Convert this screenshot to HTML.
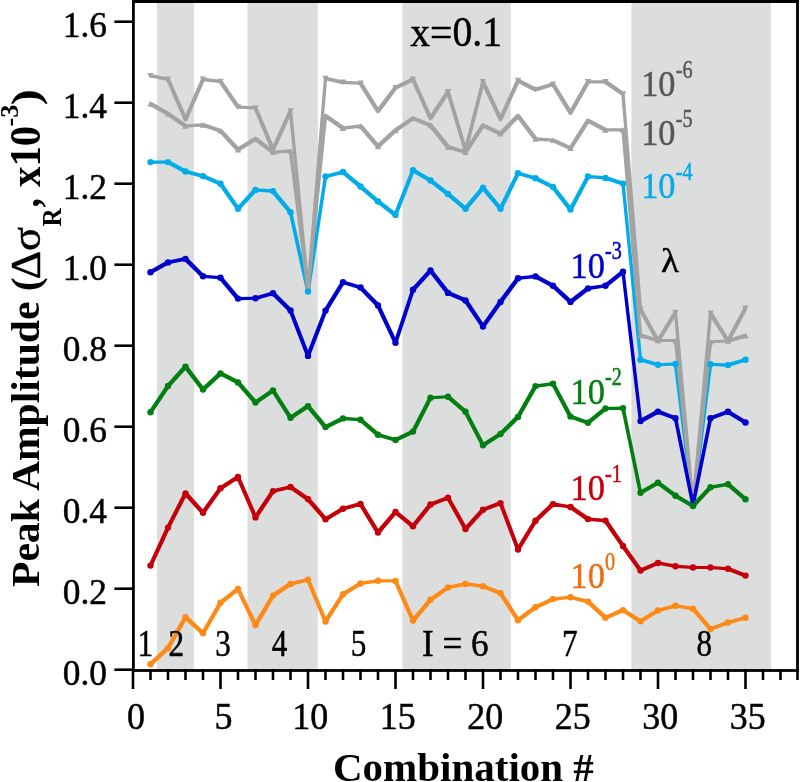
<!DOCTYPE html>
<html><head><meta charset="utf-8"><title>Peak Amplitude vs Combination</title>
<style>html,body{margin:0;padding:0;background:#fff;width:800px;height:782px;overflow:hidden}svg{display:block}</style>
</head><body>
<svg width="800" height="782" viewBox="0 0 800 782">
<rect x="0" y="0" width="800" height="782" fill="#ffffff"/>
<rect x="156.9" y="0" width="37.2" height="670" fill="#dcdddd"/>
<rect x="247.5" y="0" width="70.3" height="670" fill="#dcdddd"/>
<rect x="402.4" y="0" width="108.4" height="670" fill="#dcdddd"/>
<rect x="631.4" y="0" width="139.6" height="670" fill="#dcdddd"/>
<path d="M148.95,160.55L169.55,160.55L169.55,163.65L148.95,163.65ZM166.45,160.55L169.55,160.55L187.05,169.95L187.05,173.05L183.95,173.05L166.45,163.65ZM183.95,169.95L187.05,169.95L204.55,174.55L204.55,177.65L201.45,177.65L183.95,173.05ZM201.45,174.55L204.55,174.55L222.05,182.15L222.05,185.25L218.95,185.25L201.45,177.65ZM218.95,182.15L222.05,182.15L239.55,207.15L239.55,210.25L236.45,210.25L218.95,185.25ZM236.45,207.15L253.95,188.35L257.05,188.35L257.05,191.45L239.55,210.25L236.45,210.25ZM253.95,188.35L257.05,188.35L274.55,189.55L274.55,192.65L271.45,192.65L253.95,191.45ZM271.45,189.55L274.55,189.55L292.05,210.75L292.05,213.85L288.95,213.85L271.45,192.65ZM288.95,210.75L292.05,210.75L309.55,289.95L309.55,293.05L306.45,293.05L288.95,213.85ZM306.45,289.95L323.95,174.95L327.05,174.95L327.05,178.05L309.55,293.05L306.45,293.05ZM323.95,174.95L341.45,170.45L344.55,170.45L344.55,173.55L327.05,178.05L323.95,178.05ZM341.45,170.45L344.55,170.45L362.05,184.95L362.05,188.05L358.95,188.05L341.45,173.55ZM358.95,184.95L362.05,184.95L379.55,199.95L379.55,203.05L376.45,203.05L358.95,188.05ZM376.45,199.95L379.55,199.95L397.05,213.35L397.05,216.45L393.95,216.45L376.45,203.05ZM393.95,213.35L411.45,168.65L414.55,168.65L414.55,171.75L397.05,216.45L393.95,216.45ZM411.45,168.65L414.55,168.65L432.05,178.95L432.05,182.05L428.95,182.05L411.45,171.75ZM428.95,178.95L432.05,178.95L449.55,192.45L449.55,195.55L446.45,195.55L428.95,182.05ZM446.45,192.45L449.55,192.45L467.05,207.15L467.05,210.25L463.95,210.25L446.45,195.55ZM463.95,207.15L481.45,186.25L484.55,186.25L484.55,189.35L467.05,210.25L463.95,210.25ZM481.45,186.25L484.55,186.25L502.05,207.15L502.05,210.25L498.95,210.25L481.45,189.35ZM498.95,207.15L516.45,171.75L519.55,171.75L519.55,174.85L502.05,210.25L498.95,210.25ZM516.45,171.75L519.55,171.75L537.05,176.75L537.05,179.85L533.95,179.85L516.45,174.85ZM533.95,176.75L537.05,176.75L554.55,185.45L554.55,188.55L551.45,188.55L533.95,179.85ZM551.45,185.45L554.55,185.45L572.05,208.05L572.05,211.15L568.95,211.15L551.45,188.55ZM568.95,208.05L586.45,174.95L589.55,174.95L589.55,178.05L572.05,211.15L568.95,211.15ZM586.45,174.95L589.55,174.95L607.05,176.35L607.05,179.45L603.95,179.45L586.45,178.05ZM603.95,176.35L607.05,176.35L624.55,182.05L624.55,185.15L621.45,185.15L603.95,179.45ZM621.45,182.05L624.55,182.05L642.05,358.15L642.05,361.25L638.95,361.25L621.45,185.15ZM638.95,358.15L642.05,358.15L659.55,363.25L659.55,366.35L656.45,366.35L638.95,361.25ZM656.45,363.25L673.95,362.45L677.05,362.45L677.05,365.55L659.55,366.35L656.45,366.35ZM673.95,362.45L677.05,362.45L694.55,503.45L694.55,506.55L691.45,506.55L673.95,365.55ZM691.45,503.45L708.95,362.65L712.05,362.65L712.05,365.75L694.55,506.55L691.45,506.55ZM708.95,362.65L712.05,362.65L729.55,363.55L729.55,366.65L726.45,366.65L708.95,365.75ZM726.45,363.55L743.95,358.15L747.05,358.15L747.05,361.25L729.55,366.65L726.45,366.65Z" fill="#03ace9"/>
<path d="M148.95,74.25L152.05,74.25L169.55,77.65L169.55,80.75L166.45,80.75L148.95,77.35ZM166.45,77.65L169.55,77.65L187.05,117.95L187.05,121.05L183.95,121.05L166.45,80.75ZM183.95,117.95L201.45,77.85L204.55,77.85L204.55,80.95L187.05,121.05L183.95,121.05ZM201.45,77.85L204.55,77.85L222.05,79.95L222.05,83.05L218.95,83.05L201.45,80.95ZM218.95,79.95L222.05,79.95L239.55,105.45L239.55,108.55L236.45,108.55L218.95,83.05ZM236.45,105.45L239.55,105.45L257.05,106.45L257.05,109.55L253.95,109.55L236.45,108.55ZM253.95,106.45L257.05,106.45L274.55,148.05L274.55,151.15L271.45,151.15L253.95,109.55ZM271.45,148.05L288.95,109.45L292.05,109.45L292.05,112.55L274.55,151.15L271.45,151.15ZM288.95,109.45L292.05,109.45L309.55,287.45L309.55,290.55L306.45,290.55L288.95,112.55ZM306.45,287.45L323.95,76.95L327.05,76.95L327.05,80.05L309.55,290.55L306.45,290.55ZM323.95,76.95L327.05,76.95L344.55,80.85L344.55,83.95L341.45,83.95L323.95,80.05ZM341.45,80.85L344.55,80.85L362.05,81.75L362.05,84.85L358.95,84.85L341.45,83.95ZM358.95,81.75L362.05,81.75L379.55,109.55L379.55,112.65L376.45,112.65L358.95,84.85ZM376.45,109.55L393.95,86.25L397.05,86.25L397.05,89.35L379.55,112.65L376.45,112.65ZM393.95,86.25L411.45,77.85L414.55,77.85L414.55,80.95L397.05,89.35L393.95,89.35ZM411.45,77.85L414.55,77.85L432.05,116.65L432.05,119.75L428.95,119.75L411.45,80.95ZM428.95,116.65L446.45,90.35L449.55,90.35L449.55,93.45L432.05,119.75L428.95,119.75ZM446.45,90.35L449.55,90.35L467.05,148.95L467.05,152.05L463.95,152.05L446.45,93.45ZM463.95,148.95L481.45,80.35L484.55,80.35L484.55,83.45L467.05,152.05L463.95,152.05ZM481.45,80.35L484.55,80.35L502.05,117.55L502.05,120.65L498.95,120.65L481.45,83.45ZM498.95,117.55L516.45,79.05L519.55,79.05L519.55,82.15L502.05,120.65L498.95,120.65ZM516.45,79.05L519.55,79.05L537.05,88.05L537.05,91.15L533.95,91.15L516.45,82.15ZM533.95,88.05L551.45,82.65L554.55,82.65L554.55,85.75L537.05,91.15L533.95,91.15ZM551.45,82.65L554.55,82.65L572.05,111.35L572.05,114.45L568.95,114.45L551.45,85.75ZM568.95,111.35L586.45,80.35L589.55,80.35L589.55,83.45L572.05,114.45L568.95,114.45ZM586.45,80.35L607.05,80.35L607.05,83.45L586.45,83.45ZM603.95,80.35L607.05,80.35L624.55,92.45L624.55,95.55L621.45,95.55L603.95,83.45ZM621.45,92.45L624.55,92.45L642.05,307.65L642.05,310.75L638.95,310.75L621.45,95.55ZM638.95,307.65L642.05,307.65L659.55,339.45L659.55,342.55L656.45,342.55L638.95,310.75ZM656.45,339.45L673.95,310.95L677.05,310.95L677.05,314.05L659.55,342.55L656.45,342.55ZM673.95,310.95L677.05,310.95L694.55,503.45L694.55,506.55L691.45,506.55L673.95,314.05ZM691.45,503.45L708.95,311.65L712.05,311.65L712.05,314.75L694.55,506.55L691.45,506.55ZM708.95,311.65L712.05,311.65L729.55,339.45L729.55,342.55L726.45,342.55L708.95,314.75ZM726.45,339.45L743.95,306.75L747.05,306.75L747.05,309.85L729.55,342.55L726.45,342.55Z" fill="#a3a3a3"/>
<path d="M148.95,102.35L152.05,102.35L169.55,112.25L169.55,115.35L166.45,115.35L148.95,105.45ZM166.45,112.25L169.55,112.25L187.05,124.45L187.05,127.55L183.95,127.55L166.45,115.35ZM183.95,124.45L201.45,123.35L204.55,123.35L204.55,126.45L187.05,127.55L183.95,127.55ZM201.45,123.35L204.55,123.35L222.05,129.25L222.05,132.35L218.95,132.35L201.45,126.45ZM218.95,129.25L222.05,129.25L239.55,148.05L239.55,151.15L236.45,151.15L218.95,132.35ZM236.45,148.05L253.95,137.35L257.05,137.35L257.05,140.45L239.55,151.15L236.45,151.15ZM253.95,137.35L257.05,137.35L274.55,150.75L274.55,153.85L271.45,153.85L253.95,140.45ZM271.45,150.75L288.95,149.45L292.05,149.45L292.05,152.55L274.55,153.85L271.45,153.85ZM288.95,149.45L292.05,149.45L309.55,287.45L309.55,290.55L306.45,290.55L288.95,152.55ZM306.45,287.45L323.95,114.35L327.05,114.35L327.05,117.45L309.55,290.55L306.45,290.55ZM323.95,114.35L327.05,114.35L344.55,126.55L344.55,129.65L341.45,129.65L323.95,117.45ZM341.45,126.55L358.95,124.45L362.05,124.45L362.05,127.55L344.55,129.65L341.45,129.65ZM358.95,124.45L362.05,124.45L379.55,144.85L379.55,147.95L376.45,147.95L358.95,127.55ZM376.45,144.85L393.95,128.75L397.05,128.75L397.05,131.85L379.55,147.95L376.45,147.95ZM393.95,128.75L411.45,116.65L414.55,116.65L414.55,119.75L397.05,131.85L393.95,131.85ZM411.45,116.65L414.55,116.65L432.05,123.85L432.05,126.95L428.95,126.95L411.45,119.75ZM428.95,123.85L432.05,123.85L449.55,145.35L449.55,148.45L446.45,148.45L428.95,126.95ZM446.45,145.35L449.55,145.35L467.05,150.75L467.05,153.85L463.95,153.85L446.45,148.45ZM463.95,150.75L481.45,123.85L484.55,123.85L484.55,126.95L467.05,153.85L463.95,153.85ZM481.45,123.85L484.55,123.85L502.05,132.25L502.05,135.35L498.95,135.35L481.45,126.95ZM498.95,132.25L516.45,114.35L519.55,114.35L519.55,117.45L502.05,135.35L498.95,135.35ZM516.45,114.35L519.55,114.35L537.05,137.35L537.05,140.45L533.95,140.45L516.45,117.45ZM533.95,137.35L537.05,137.35L554.55,138.75L554.55,141.85L551.45,141.85L533.95,140.45ZM551.45,138.75L554.55,138.75L572.05,146.65L572.05,149.75L568.95,149.75L551.45,141.85ZM568.95,146.65L586.45,119.05L589.55,119.05L589.55,122.15L572.05,149.75L568.95,149.75ZM586.45,119.05L589.55,119.05L607.05,128.35L607.05,131.45L603.95,131.45L586.45,122.15ZM603.95,128.35L624.55,128.35L624.55,131.45L603.95,131.45ZM621.45,128.35L624.55,128.35L642.05,333.85L642.05,336.95L638.95,336.95L621.45,131.45ZM638.95,333.85L642.05,333.85L659.55,338.95L659.55,342.05L656.45,342.05L638.95,336.95ZM656.45,338.95L677.05,338.95L677.05,342.05L656.45,342.05ZM673.95,338.95L677.05,338.95L694.55,503.45L694.55,506.55L691.45,506.55L673.95,342.05ZM691.45,503.45L708.95,340.25L712.05,340.25L712.05,343.35L694.55,506.55L691.45,506.55ZM708.95,340.25L726.45,339.45L729.55,339.45L729.55,342.55L712.05,343.35L708.95,343.35ZM726.45,339.45L743.95,334.05L747.05,334.05L747.05,337.15L729.55,342.55L726.45,342.55Z" fill="#a3a3a3"/>
<path d="M148.95,270.75L166.45,260.85L169.55,260.85L169.55,263.95L152.05,273.85L148.95,273.85ZM166.45,260.85L183.95,257.35L187.05,257.35L187.05,260.45L169.55,263.95L166.45,263.95ZM183.95,257.35L187.05,257.35L204.55,274.65L204.55,277.75L201.45,277.75L183.95,260.45ZM201.45,274.65L204.55,274.65L222.05,276.15L222.05,279.25L218.95,279.25L201.45,277.75ZM218.95,276.15L222.05,276.15L239.55,297.05L239.55,300.15L236.45,300.15L218.95,279.25ZM236.45,297.05L253.95,296.75L257.05,296.75L257.05,299.85L239.55,300.15L236.45,300.15ZM253.95,296.75L271.45,291.75L274.55,291.75L274.55,294.85L257.05,299.85L253.95,299.85ZM271.45,291.75L274.55,291.75L292.05,308.95L292.05,312.05L288.95,312.05L271.45,294.85ZM288.95,308.95L292.05,308.95L309.55,354.35L309.55,357.45L306.45,357.45L288.95,312.05ZM306.45,354.35L323.95,309.05L327.05,309.05L327.05,312.15L309.55,357.45L306.45,357.45ZM323.95,309.05L341.45,280.65L344.55,280.65L344.55,283.75L327.05,312.15L323.95,312.15ZM341.45,280.65L344.55,280.65L362.05,285.95L362.05,289.05L358.95,289.05L341.45,283.75ZM358.95,285.95L362.05,285.95L379.55,303.85L379.55,306.95L376.45,306.95L358.95,289.05ZM376.45,303.85L379.55,303.85L397.05,341.15L397.05,344.25L393.95,344.25L376.45,306.95ZM393.95,341.15L411.45,288.25L414.55,288.25L414.55,291.35L397.05,344.25L393.95,344.25ZM411.45,288.25L428.95,268.95L432.05,268.95L432.05,272.05L414.55,291.35L411.45,291.35ZM428.95,268.95L432.05,268.95L449.55,291.35L449.55,294.45L446.45,294.45L428.95,272.05ZM446.45,291.35L449.55,291.35L467.05,298.85L467.05,301.95L463.95,301.95L446.45,294.45ZM463.95,298.85L467.05,298.85L484.55,324.95L484.55,328.05L481.45,328.05L463.95,301.95ZM481.45,324.95L498.95,300.35L502.05,300.35L502.05,303.45L484.55,328.05L481.45,328.05ZM498.95,300.35L516.45,276.65L519.55,276.65L519.55,279.75L502.05,303.45L498.95,303.45ZM516.45,276.65L533.95,274.85L537.05,274.85L537.05,277.95L519.55,279.75L516.45,279.75ZM533.95,274.85L537.05,274.85L554.55,284.15L554.55,287.25L551.45,287.25L533.95,277.95ZM551.45,284.15L554.55,284.15L572.05,300.35L572.05,303.45L568.95,303.45L551.45,287.25ZM568.95,300.35L586.45,286.85L589.55,286.85L589.55,289.95L572.05,303.45L568.95,303.45ZM586.45,286.85L603.95,284.15L607.05,284.15L607.05,287.25L589.55,289.95L586.45,289.95ZM603.95,284.15L621.45,270.25L624.55,270.25L624.55,273.35L607.05,287.25L603.95,287.25ZM621.45,270.25L624.55,270.25L642.05,419.55L642.05,422.65L638.95,422.65L621.45,273.35ZM638.95,419.55L656.45,410.05L659.55,410.05L659.55,413.15L642.05,422.65L638.95,422.65ZM656.45,410.05L659.55,410.05L677.05,416.65L677.05,419.75L673.95,419.75L656.45,413.15ZM673.95,416.65L677.05,416.65L694.55,503.45L694.55,506.55L691.45,506.55L673.95,419.75ZM691.45,503.45L708.95,416.75L712.05,416.75L712.05,419.85L694.55,506.55L691.45,506.55ZM708.95,416.75L726.45,410.25L729.55,410.25L729.55,413.35L712.05,419.85L708.95,419.85ZM726.45,410.25L729.55,410.25L747.05,420.95L747.05,424.05L743.95,424.05L726.45,413.35Z" fill="#0000cc"/>
<path d="M148.95,410.75L166.45,384.45L169.55,384.45L169.55,387.55L152.05,413.85L148.95,413.85ZM166.45,384.45L183.95,365.05L187.05,365.05L187.05,368.15L169.55,387.55L166.45,387.55ZM183.95,365.05L187.05,365.05L204.55,387.95L204.55,391.05L201.45,391.05L183.95,368.15ZM201.45,387.95L218.95,371.85L222.05,371.85L222.05,374.95L204.55,391.05L201.45,391.05ZM218.95,371.85L222.05,371.85L239.55,380.85L239.55,383.95L236.45,383.95L218.95,374.95ZM236.45,380.85L239.55,380.85L257.05,400.95L257.05,404.05L253.95,404.05L236.45,383.95ZM253.95,400.95L271.45,388.95L274.55,388.95L274.55,392.05L257.05,404.05L253.95,404.05ZM271.45,388.95L274.55,388.95L292.05,416.15L292.05,419.25L288.95,419.25L271.45,392.05ZM288.95,416.15L306.45,404.55L309.55,404.55L309.55,407.65L292.05,419.25L288.95,419.25ZM306.45,404.55L309.55,404.55L327.05,425.55L327.05,428.65L323.95,428.65L306.45,407.65ZM323.95,425.55L341.45,416.85L344.55,416.85L344.55,419.95L327.05,428.65L323.95,428.65ZM341.45,416.85L344.55,416.85L362.05,418.15L362.05,421.25L358.95,421.25L341.45,419.95ZM358.95,418.15L362.05,418.15L379.55,433.25L379.55,436.35L376.45,436.35L358.95,421.25ZM376.45,433.25L379.55,433.25L397.05,438.45L397.05,441.55L393.95,441.55L376.45,436.35ZM393.95,438.45L411.45,430.05L414.55,430.05L414.55,433.15L397.05,441.55L393.95,441.55ZM411.45,430.05L428.95,396.15L432.05,396.15L432.05,399.25L414.55,433.15L411.45,433.15ZM428.95,396.15L446.45,395.25L449.55,395.25L449.55,398.35L432.05,399.25L428.95,399.25ZM446.45,395.25L449.55,395.25L467.05,410.25L467.05,413.35L463.95,413.35L446.45,398.35ZM463.95,410.25L467.05,410.25L484.55,443.65L484.55,446.75L481.45,446.75L463.95,413.35ZM481.45,443.65L498.95,432.45L502.05,432.45L502.05,435.55L484.55,446.75L481.45,446.75ZM498.95,432.45L516.45,415.35L519.55,415.35L519.55,418.45L502.05,435.55L498.95,435.55ZM516.45,415.35L533.95,384.55L537.05,384.55L537.05,387.65L519.55,418.45L516.45,418.45ZM533.95,384.55L551.45,382.25L554.55,382.25L554.55,385.35L537.05,387.65L533.95,387.65ZM551.45,382.25L554.55,382.25L572.05,415.05L572.05,418.15L568.95,418.15L551.45,385.35ZM568.95,415.05L572.05,415.05L589.55,421.25L589.55,424.35L586.45,424.35L568.95,418.15ZM586.45,421.25L603.95,406.95L607.05,406.95L607.05,410.05L589.55,424.35L586.45,424.35ZM603.95,406.95L621.45,406.55L624.55,406.55L624.55,409.65L607.05,410.05L603.95,410.05ZM621.45,406.55L624.55,406.55L642.05,491.25L642.05,494.35L638.95,494.35L621.45,409.65ZM638.95,491.25L656.45,481.25L659.55,481.25L659.55,484.35L642.05,494.35L638.95,494.35ZM656.45,481.25L659.55,481.25L677.05,494.25L677.05,497.35L673.95,497.35L656.45,484.35ZM673.95,494.25L677.05,494.25L694.55,504.45L694.55,507.55L691.45,507.55L673.95,497.35ZM691.45,504.45L708.95,485.65L712.05,485.65L712.05,488.75L694.55,507.55L691.45,507.55ZM708.95,485.65L726.45,482.75L729.55,482.75L729.55,485.85L712.05,488.75L708.95,488.75ZM726.45,482.75L729.55,482.75L747.05,497.65L747.05,500.75L743.95,500.75L726.45,485.85Z" fill="#037f12"/>
<path d="M148.95,564.05L166.45,526.05L169.55,526.05L169.55,529.15L152.05,567.15L148.95,567.15ZM166.45,526.05L183.95,491.85L187.05,491.85L187.05,494.95L169.55,529.15L166.45,529.15ZM183.95,491.85L187.05,491.85L204.55,511.15L204.55,514.25L201.45,514.25L183.95,494.95ZM201.45,511.15L218.95,486.65L222.05,486.65L222.05,489.75L204.55,514.25L201.45,514.25ZM218.95,486.65L236.45,475.45L239.55,475.45L239.55,478.55L222.05,489.75L218.95,489.75ZM236.45,475.45L239.55,475.45L257.05,515.85L257.05,518.95L253.95,518.95L236.45,478.55ZM253.95,515.85L271.45,489.55L274.55,489.55L274.55,492.65L257.05,518.95L253.95,518.95ZM271.45,489.55L288.95,485.45L292.05,485.45L292.05,488.55L274.55,492.65L271.45,492.65ZM288.95,485.45L292.05,485.45L309.55,497.55L309.55,500.65L306.45,500.65L288.95,488.55ZM306.45,497.55L309.55,497.55L327.05,517.65L327.05,520.75L323.95,520.75L306.45,500.65ZM323.95,517.65L341.45,507.25L344.55,507.25L344.55,510.35L327.05,520.75L323.95,520.75ZM341.45,507.25L358.95,502.35L362.05,502.35L362.05,505.45L344.55,510.35L341.45,510.35ZM358.95,502.35L362.05,502.35L379.55,531.05L379.55,534.15L376.45,534.15L358.95,505.45ZM376.45,531.05L393.95,510.45L397.05,510.45L397.05,513.55L379.55,534.15L376.45,534.15ZM393.95,510.45L397.05,510.45L414.55,524.75L414.55,527.85L411.45,527.85L393.95,513.55ZM411.45,524.75L428.95,502.95L432.05,502.95L432.05,506.05L414.55,527.85L411.45,527.85ZM428.95,502.95L446.45,496.15L449.55,496.15L449.55,499.25L432.05,506.05L428.95,506.05ZM446.45,496.15L449.55,496.15L467.05,527.45L467.05,530.55L463.95,530.55L446.45,499.25ZM463.95,527.45L481.45,508.15L484.55,508.15L484.55,511.25L467.05,530.55L463.95,530.55ZM481.45,508.15L498.95,501.55L502.05,501.55L502.05,504.65L484.55,511.25L481.45,511.25ZM498.95,501.55L502.05,501.55L519.55,547.95L519.55,551.05L516.45,551.05L498.95,504.65ZM516.45,547.95L533.95,519.25L537.05,519.25L537.05,522.35L519.55,551.05L516.45,551.05ZM533.95,519.25L551.45,502.55L554.55,502.55L554.55,505.65L537.05,522.35L533.95,522.35ZM551.45,502.55L554.55,502.55L572.05,505.45L572.05,508.55L568.95,508.55L551.45,505.65ZM568.95,505.45L572.05,505.45L589.55,517.55L589.55,520.65L586.45,520.65L568.95,508.55ZM586.45,517.55L589.55,517.55L607.05,519.05L607.05,522.15L603.95,522.15L586.45,520.65ZM603.95,519.05L607.05,519.05L624.55,544.45L624.55,547.55L621.45,547.55L603.95,522.15ZM621.45,544.45L624.55,544.45L642.05,568.95L642.05,572.05L638.95,572.05L621.45,547.55ZM638.95,568.95L656.45,561.45L659.55,561.45L659.55,564.55L642.05,572.05L638.95,572.05ZM656.45,561.45L659.55,561.45L677.05,564.65L677.05,567.75L673.95,567.75L656.45,564.55ZM673.95,564.65L677.05,564.65L694.55,565.95L694.55,569.05L691.45,569.05L673.95,567.75ZM691.45,565.95L712.05,565.95L712.05,569.05L691.45,569.05ZM708.95,565.95L712.05,565.95L729.55,567.15L729.55,570.25L726.45,570.25L708.95,569.05ZM726.45,567.15L729.55,567.15L747.05,574.05L747.05,577.15L743.95,577.15L726.45,570.25Z" fill="#c4000a"/>
<path d="M148.95,662.65L166.45,646.55L169.55,646.55L169.55,649.65L152.05,665.75L148.95,665.75ZM166.45,646.55L183.95,615.55L187.05,615.55L187.05,618.65L169.55,649.65L166.45,649.65ZM183.95,615.55L187.05,615.55L204.55,631.65L204.55,634.75L201.45,634.75L183.95,618.65ZM201.45,631.65L218.95,601.15L222.05,601.15L222.05,604.25L204.55,634.75L201.45,634.75ZM218.95,601.15L236.45,587.45L239.55,587.45L239.55,590.55L222.05,604.25L218.95,604.25ZM236.45,587.45L239.55,587.45L257.05,623.55L257.05,626.65L253.95,626.65L236.45,590.55ZM253.95,623.55L271.45,594.05L274.55,594.05L274.55,597.15L257.05,626.65L253.95,626.65ZM271.45,594.05L288.95,582.35L292.05,582.35L292.05,585.45L274.55,597.15L271.45,597.15ZM288.95,582.35L306.45,578.25L309.55,578.25L309.55,581.35L292.05,585.45L288.95,585.45ZM306.45,578.25L309.55,578.25L327.05,619.95L327.05,623.05L323.95,623.05L306.45,581.35ZM323.95,619.95L341.45,592.75L344.55,592.75L344.55,595.85L327.05,623.05L323.95,623.05ZM341.45,592.75L358.95,581.95L362.05,581.95L362.05,585.05L344.55,595.85L341.45,595.85ZM358.95,581.95L376.45,579.15L379.55,579.15L379.55,582.25L362.05,585.05L358.95,585.05ZM376.45,579.15L379.55,579.15L397.05,579.35L397.05,582.45L393.95,582.45L376.45,582.25ZM393.95,579.35L397.05,579.35L414.55,619.05L414.55,622.15L411.45,622.15L393.95,582.45ZM411.45,619.05L428.95,598.15L432.05,598.15L432.05,601.25L414.55,622.15L411.45,622.15ZM428.95,598.15L446.45,585.95L449.55,585.95L449.55,589.05L432.05,601.25L428.95,601.25ZM446.45,585.95L463.95,582.35L467.05,582.35L467.05,585.45L449.55,589.05L446.45,589.05ZM463.95,582.35L467.05,582.35L484.55,584.65L484.55,587.75L481.45,587.75L463.95,585.45ZM481.45,584.65L484.55,584.65L502.05,591.55L502.05,594.65L498.95,594.65L481.45,587.75ZM498.95,591.55L502.05,591.55L519.55,618.75L519.55,621.85L516.45,621.85L498.95,594.65ZM516.45,618.75L533.95,605.65L537.05,605.65L537.05,608.75L519.55,621.85L516.45,621.85ZM533.95,605.65L551.45,597.55L554.55,597.55L554.55,600.65L537.05,608.75L533.95,608.75ZM551.45,597.55L568.95,595.75L572.05,595.75L572.05,598.85L554.55,600.65L551.45,600.65ZM568.95,595.75L572.05,595.75L589.55,600.05L589.55,603.15L586.45,603.15L568.95,598.85ZM586.45,600.05L589.55,600.05L607.05,616.15L607.05,619.25L603.95,619.25L586.45,603.15ZM603.95,616.15L621.45,608.55L624.55,608.55L624.55,611.65L607.05,619.25L603.95,619.25ZM621.45,608.55L624.55,608.55L642.05,619.75L642.05,622.85L638.95,622.85L621.45,611.65ZM638.95,619.75L656.45,608.95L659.55,608.95L659.55,612.05L642.05,622.85L638.95,622.85ZM656.45,608.95L673.95,604.15L677.05,604.15L677.05,607.25L659.55,612.05L656.45,612.05ZM673.95,604.15L677.05,604.15L694.55,607.15L694.55,610.25L691.45,610.25L673.95,607.25ZM691.45,607.15L694.55,607.15L712.05,627.45L712.05,630.55L708.95,630.55L691.45,610.25ZM708.95,627.45L726.45,620.95L729.55,620.95L729.55,624.05L712.05,630.55L708.95,630.55ZM726.45,620.95L743.95,616.15L747.05,616.15L747.05,619.25L729.55,624.05L726.45,624.05Z" fill="#fd8a16"/>
<path d="M147.3,73.0h6.4l-3.2,5.6zM164.8,76.4h6.4l-3.2,5.6zM182.3,116.7h6.4l-3.2,5.6zM199.8,76.6h6.4l-3.2,5.6zM217.3,78.7h6.4l-3.2,5.6zM234.8,104.2h6.4l-3.2,5.6zM252.3,105.2h6.4l-3.2,5.6zM269.8,146.8h6.4l-3.2,5.6zM287.3,108.2h6.4l-3.2,5.6zM304.8,286.2h6.4l-3.2,5.6zM322.3,75.7h6.4l-3.2,5.6zM339.8,79.6h6.4l-3.2,5.6zM357.3,80.5h6.4l-3.2,5.6zM374.8,108.3h6.4l-3.2,5.6zM392.3,85.0h6.4l-3.2,5.6zM409.8,76.6h6.4l-3.2,5.6zM427.3,115.4h6.4l-3.2,5.6zM444.8,89.1h6.4l-3.2,5.6zM462.3,147.7h6.4l-3.2,5.6zM479.8,79.1h6.4l-3.2,5.6zM497.3,116.3h6.4l-3.2,5.6zM514.8,77.8h6.4l-3.2,5.6zM532.3,86.8h6.4l-3.2,5.6zM549.8,81.4h6.4l-3.2,5.6zM567.3,110.1h6.4l-3.2,5.6zM584.8,79.1h6.4l-3.2,5.6zM602.3,79.1h6.4l-3.2,5.6zM619.8,91.2h6.4l-3.2,5.6zM637.3,306.4h6.4l-3.2,5.6zM654.8,338.2h6.4l-3.2,5.6zM672.3,309.7h6.4l-3.2,5.6zM689.8,502.2h6.4l-3.2,5.6zM707.3,310.4h6.4l-3.2,5.6zM724.8,338.2h6.4l-3.2,5.6zM742.3,305.5h6.4l-3.2,5.6z" fill="#a3a3a3"/>
<path d="M147.3,106.7h6.4l-3.2,-5.6zM164.8,116.6h6.4l-3.2,-5.6zM182.3,128.8h6.4l-3.2,-5.6zM199.8,127.7h6.4l-3.2,-5.6zM217.3,133.6h6.4l-3.2,-5.6zM234.8,152.4h6.4l-3.2,-5.6zM252.3,141.7h6.4l-3.2,-5.6zM269.8,155.1h6.4l-3.2,-5.6zM287.3,153.8h6.4l-3.2,-5.6zM304.8,291.8h6.4l-3.2,-5.6zM322.3,118.7h6.4l-3.2,-5.6zM339.8,130.9h6.4l-3.2,-5.6zM357.3,128.8h6.4l-3.2,-5.6zM374.8,149.2h6.4l-3.2,-5.6zM392.3,133.1h6.4l-3.2,-5.6zM409.8,121.0h6.4l-3.2,-5.6zM427.3,128.2h6.4l-3.2,-5.6zM444.8,149.7h6.4l-3.2,-5.6zM462.3,155.1h6.4l-3.2,-5.6zM479.8,128.2h6.4l-3.2,-5.6zM497.3,136.6h6.4l-3.2,-5.6zM514.8,118.7h6.4l-3.2,-5.6zM532.3,141.7h6.4l-3.2,-5.6zM549.8,143.1h6.4l-3.2,-5.6zM567.3,151.0h6.4l-3.2,-5.6zM584.8,123.4h6.4l-3.2,-5.6zM602.3,132.7h6.4l-3.2,-5.6zM619.8,132.7h6.4l-3.2,-5.6zM637.3,338.2h6.4l-3.2,-5.6zM654.8,343.3h6.4l-3.2,-5.6zM672.3,343.3h6.4l-3.2,-5.6zM689.8,507.8h6.4l-3.2,-5.6zM707.3,344.6h6.4l-3.2,-5.6zM724.8,343.8h6.4l-3.2,-5.6zM742.3,338.4h6.4l-3.2,-5.6z" fill="#a3a3a3"/>
<g fill="#03ace9"><circle cx="150.5" cy="162.1" r="3.2"/><circle cx="168.0" cy="162.1" r="3.2"/><circle cx="185.5" cy="171.5" r="3.2"/><circle cx="203.0" cy="176.1" r="3.2"/><circle cx="220.5" cy="183.7" r="3.2"/><circle cx="238.0" cy="208.7" r="3.2"/><circle cx="255.5" cy="189.9" r="3.2"/><circle cx="273.0" cy="191.1" r="3.2"/><circle cx="290.5" cy="212.3" r="3.2"/><circle cx="308.0" cy="291.5" r="3.2"/><circle cx="325.5" cy="176.5" r="3.2"/><circle cx="343.0" cy="172.0" r="3.2"/><circle cx="360.5" cy="186.5" r="3.2"/><circle cx="378.0" cy="201.5" r="3.2"/><circle cx="395.5" cy="214.9" r="3.2"/><circle cx="413.0" cy="170.2" r="3.2"/><circle cx="430.5" cy="180.5" r="3.2"/><circle cx="448.0" cy="194.0" r="3.2"/><circle cx="465.5" cy="208.7" r="3.2"/><circle cx="483.0" cy="187.8" r="3.2"/><circle cx="500.5" cy="208.7" r="3.2"/><circle cx="518.0" cy="173.3" r="3.2"/><circle cx="535.5" cy="178.3" r="3.2"/><circle cx="553.0" cy="187.0" r="3.2"/><circle cx="570.5" cy="209.6" r="3.2"/><circle cx="588.0" cy="176.5" r="3.2"/><circle cx="605.5" cy="177.9" r="3.2"/><circle cx="623.0" cy="183.6" r="3.2"/><circle cx="640.5" cy="359.7" r="3.2"/><circle cx="658.0" cy="364.8" r="3.2"/><circle cx="675.5" cy="364.0" r="3.2"/><circle cx="693.0" cy="505.0" r="3.2"/><circle cx="710.5" cy="364.2" r="3.2"/><circle cx="728.0" cy="365.1" r="3.2"/><circle cx="745.5" cy="359.7" r="3.2"/></g>
<g fill="#0000cc"><circle cx="150.5" cy="272.3" r="3.2"/><circle cx="168.0" cy="262.4" r="3.2"/><circle cx="185.5" cy="258.9" r="3.2"/><circle cx="203.0" cy="276.2" r="3.2"/><circle cx="220.5" cy="277.7" r="3.2"/><circle cx="238.0" cy="298.6" r="3.2"/><circle cx="255.5" cy="298.3" r="3.2"/><circle cx="273.0" cy="293.3" r="3.2"/><circle cx="290.5" cy="310.5" r="3.2"/><circle cx="308.0" cy="355.9" r="3.2"/><circle cx="325.5" cy="310.6" r="3.2"/><circle cx="343.0" cy="282.2" r="3.2"/><circle cx="360.5" cy="287.5" r="3.2"/><circle cx="378.0" cy="305.4" r="3.2"/><circle cx="395.5" cy="342.7" r="3.2"/><circle cx="413.0" cy="289.8" r="3.2"/><circle cx="430.5" cy="270.5" r="3.2"/><circle cx="448.0" cy="292.9" r="3.2"/><circle cx="465.5" cy="300.4" r="3.2"/><circle cx="483.0" cy="326.5" r="3.2"/><circle cx="500.5" cy="301.9" r="3.2"/><circle cx="518.0" cy="278.2" r="3.2"/><circle cx="535.5" cy="276.4" r="3.2"/><circle cx="553.0" cy="285.7" r="3.2"/><circle cx="570.5" cy="301.9" r="3.2"/><circle cx="588.0" cy="288.4" r="3.2"/><circle cx="605.5" cy="285.7" r="3.2"/><circle cx="623.0" cy="271.8" r="3.2"/><circle cx="640.5" cy="421.1" r="3.2"/><circle cx="658.0" cy="411.6" r="3.2"/><circle cx="675.5" cy="418.2" r="3.2"/><circle cx="693.0" cy="505.0" r="3.2"/><circle cx="710.5" cy="418.3" r="3.2"/><circle cx="728.0" cy="411.8" r="3.2"/><circle cx="745.5" cy="422.5" r="3.2"/></g>
<g fill="#037f12"><circle cx="150.5" cy="412.3" r="3.2"/><circle cx="168.0" cy="386.0" r="3.2"/><circle cx="185.5" cy="366.6" r="3.2"/><circle cx="203.0" cy="389.5" r="3.2"/><circle cx="220.5" cy="373.4" r="3.2"/><circle cx="238.0" cy="382.4" r="3.2"/><circle cx="255.5" cy="402.5" r="3.2"/><circle cx="273.0" cy="390.5" r="3.2"/><circle cx="290.5" cy="417.7" r="3.2"/><circle cx="308.0" cy="406.1" r="3.2"/><circle cx="325.5" cy="427.1" r="3.2"/><circle cx="343.0" cy="418.4" r="3.2"/><circle cx="360.5" cy="419.7" r="3.2"/><circle cx="378.0" cy="434.8" r="3.2"/><circle cx="395.5" cy="440.0" r="3.2"/><circle cx="413.0" cy="431.6" r="3.2"/><circle cx="430.5" cy="397.7" r="3.2"/><circle cx="448.0" cy="396.8" r="3.2"/><circle cx="465.5" cy="411.8" r="3.2"/><circle cx="483.0" cy="445.2" r="3.2"/><circle cx="500.5" cy="434.0" r="3.2"/><circle cx="518.0" cy="416.9" r="3.2"/><circle cx="535.5" cy="386.1" r="3.2"/><circle cx="553.0" cy="383.8" r="3.2"/><circle cx="570.5" cy="416.6" r="3.2"/><circle cx="588.0" cy="422.8" r="3.2"/><circle cx="605.5" cy="408.5" r="3.2"/><circle cx="623.0" cy="408.1" r="3.2"/><circle cx="640.5" cy="492.8" r="3.2"/><circle cx="658.0" cy="482.8" r="3.2"/><circle cx="675.5" cy="495.8" r="3.2"/><circle cx="693.0" cy="506.0" r="3.2"/><circle cx="710.5" cy="487.2" r="3.2"/><circle cx="728.0" cy="484.3" r="3.2"/><circle cx="745.5" cy="499.2" r="3.2"/></g>
<g fill="#c4000a"><circle cx="150.5" cy="565.6" r="3.2"/><circle cx="168.0" cy="527.6" r="3.2"/><circle cx="185.5" cy="493.4" r="3.2"/><circle cx="203.0" cy="512.7" r="3.2"/><circle cx="220.5" cy="488.2" r="3.2"/><circle cx="238.0" cy="477.0" r="3.2"/><circle cx="255.5" cy="517.4" r="3.2"/><circle cx="273.0" cy="491.1" r="3.2"/><circle cx="290.5" cy="487.0" r="3.2"/><circle cx="308.0" cy="499.1" r="3.2"/><circle cx="325.5" cy="519.2" r="3.2"/><circle cx="343.0" cy="508.8" r="3.2"/><circle cx="360.5" cy="503.9" r="3.2"/><circle cx="378.0" cy="532.6" r="3.2"/><circle cx="395.5" cy="512.0" r="3.2"/><circle cx="413.0" cy="526.3" r="3.2"/><circle cx="430.5" cy="504.5" r="3.2"/><circle cx="448.0" cy="497.7" r="3.2"/><circle cx="465.5" cy="529.0" r="3.2"/><circle cx="483.0" cy="509.7" r="3.2"/><circle cx="500.5" cy="503.1" r="3.2"/><circle cx="518.0" cy="549.5" r="3.2"/><circle cx="535.5" cy="520.8" r="3.2"/><circle cx="553.0" cy="504.1" r="3.2"/><circle cx="570.5" cy="507.0" r="3.2"/><circle cx="588.0" cy="519.1" r="3.2"/><circle cx="605.5" cy="520.6" r="3.2"/><circle cx="623.0" cy="546.0" r="3.2"/><circle cx="640.5" cy="570.5" r="3.2"/><circle cx="658.0" cy="563.0" r="3.2"/><circle cx="675.5" cy="566.2" r="3.2"/><circle cx="693.0" cy="567.5" r="3.2"/><circle cx="710.5" cy="567.5" r="3.2"/><circle cx="728.0" cy="568.7" r="3.2"/><circle cx="745.5" cy="575.6" r="3.2"/></g>
<g fill="#fd8a16"><circle cx="150.5" cy="664.2" r="3.2"/><circle cx="168.0" cy="648.1" r="3.2"/><circle cx="185.5" cy="617.1" r="3.2"/><circle cx="203.0" cy="633.2" r="3.2"/><circle cx="220.5" cy="602.7" r="3.2"/><circle cx="238.0" cy="589.0" r="3.2"/><circle cx="255.5" cy="625.1" r="3.2"/><circle cx="273.0" cy="595.6" r="3.2"/><circle cx="290.5" cy="583.9" r="3.2"/><circle cx="308.0" cy="579.8" r="3.2"/><circle cx="325.5" cy="621.5" r="3.2"/><circle cx="343.0" cy="594.3" r="3.2"/><circle cx="360.5" cy="583.5" r="3.2"/><circle cx="378.0" cy="580.7" r="3.2"/><circle cx="395.5" cy="580.9" r="3.2"/><circle cx="413.0" cy="620.6" r="3.2"/><circle cx="430.5" cy="599.7" r="3.2"/><circle cx="448.0" cy="587.5" r="3.2"/><circle cx="465.5" cy="583.9" r="3.2"/><circle cx="483.0" cy="586.2" r="3.2"/><circle cx="500.5" cy="593.1" r="3.2"/><circle cx="518.0" cy="620.3" r="3.2"/><circle cx="535.5" cy="607.2" r="3.2"/><circle cx="553.0" cy="599.1" r="3.2"/><circle cx="570.5" cy="597.3" r="3.2"/><circle cx="588.0" cy="601.6" r="3.2"/><circle cx="605.5" cy="617.7" r="3.2"/><circle cx="623.0" cy="610.1" r="3.2"/><circle cx="640.5" cy="621.3" r="3.2"/><circle cx="658.0" cy="610.5" r="3.2"/><circle cx="675.5" cy="605.7" r="3.2"/><circle cx="693.0" cy="608.7" r="3.2"/><circle cx="710.5" cy="629.0" r="3.2"/><circle cx="728.0" cy="622.5" r="3.2"/><circle cx="745.5" cy="617.7" r="3.2"/></g>
<g fill="#000">
<rect x="132" y="0" width="2.8" height="671.2"/>
<rect x="132" y="669.1" width="667" height="2.8"/>
<rect x="132" y="0" width="667" height="3"/>
<rect x="796.1" y="0" width="2.8" height="671.2"/>
<rect x="114.4" y="668.4" width="18" height="2.6"/>
<rect x="114.4" y="587.4" width="18" height="2.6"/>
<rect x="114.4" y="506.4" width="18" height="2.6"/>
<rect x="114.4" y="425.4" width="18" height="2.6"/>
<rect x="114.4" y="344.4" width="18" height="2.6"/>
<rect x="114.4" y="263.4" width="18" height="2.6"/>
<rect x="114.4" y="182.4" width="18" height="2.6"/>
<rect x="114.4" y="101.4" width="18" height="2.6"/>
<rect x="114.4" y="20.4" width="18" height="2.6"/>
<rect x="131.7" y="669" width="2.6" height="20"/>
<rect x="149.2" y="669" width="2.6" height="11"/>
<rect x="166.7" y="669" width="2.6" height="11"/>
<rect x="184.2" y="669" width="2.6" height="11"/>
<rect x="201.7" y="669" width="2.6" height="11"/>
<rect x="219.2" y="669" width="2.6" height="20"/>
<rect x="236.7" y="669" width="2.6" height="11"/>
<rect x="254.2" y="669" width="2.6" height="11"/>
<rect x="271.7" y="669" width="2.6" height="11"/>
<rect x="289.2" y="669" width="2.6" height="11"/>
<rect x="306.7" y="669" width="2.6" height="20"/>
<rect x="324.2" y="669" width="2.6" height="11"/>
<rect x="341.7" y="669" width="2.6" height="11"/>
<rect x="359.2" y="669" width="2.6" height="11"/>
<rect x="376.7" y="669" width="2.6" height="11"/>
<rect x="394.2" y="669" width="2.6" height="20"/>
<rect x="411.7" y="669" width="2.6" height="11"/>
<rect x="429.2" y="669" width="2.6" height="11"/>
<rect x="446.7" y="669" width="2.6" height="11"/>
<rect x="464.2" y="669" width="2.6" height="11"/>
<rect x="481.7" y="669" width="2.6" height="20"/>
<rect x="499.2" y="669" width="2.6" height="11"/>
<rect x="516.7" y="669" width="2.6" height="11"/>
<rect x="534.2" y="669" width="2.6" height="11"/>
<rect x="551.7" y="669" width="2.6" height="11"/>
<rect x="569.2" y="669" width="2.6" height="20"/>
<rect x="586.7" y="669" width="2.6" height="11"/>
<rect x="604.2" y="669" width="2.6" height="11"/>
<rect x="621.7" y="669" width="2.6" height="11"/>
<rect x="639.2" y="669" width="2.6" height="11"/>
<rect x="656.7" y="669" width="2.6" height="20"/>
<rect x="674.2" y="669" width="2.6" height="11"/>
<rect x="691.7" y="669" width="2.6" height="11"/>
<rect x="709.2" y="669" width="2.6" height="11"/>
<rect x="726.7" y="669" width="2.6" height="11"/>
<rect x="744.2" y="669" width="2.6" height="20"/>
<rect x="761.7" y="669" width="2.6" height="11"/>
<rect x="779.2" y="669" width="2.6" height="11"/>
<rect x="796.2" y="669" width="2.6" height="11"/>
</g>
<text transform="translate(107.04,685.47) scale(1.0247,1.0393)" text-anchor="end" style="font-family:'Liberation Serif','Times New Roman',serif;font-size:34.5px;font-weight:normal" fill="#000" stroke="#000" stroke-width="0.45">0.0</text>
<text transform="translate(107.04,604.47) scale(1.0247,1.0393)" text-anchor="end" style="font-family:'Liberation Serif','Times New Roman',serif;font-size:34.5px;font-weight:normal" fill="#000" stroke="#000" stroke-width="0.45">0.2</text>
<text transform="translate(107.04,523.47) scale(1.0247,1.0393)" text-anchor="end" style="font-family:'Liberation Serif','Times New Roman',serif;font-size:34.5px;font-weight:normal" fill="#000" stroke="#000" stroke-width="0.45">0.4</text>
<text transform="translate(107.04,442.47) scale(1.0247,1.0393)" text-anchor="end" style="font-family:'Liberation Serif','Times New Roman',serif;font-size:34.5px;font-weight:normal" fill="#000" stroke="#000" stroke-width="0.45">0.6</text>
<text transform="translate(107.04,361.47) scale(1.0247,1.0393)" text-anchor="end" style="font-family:'Liberation Serif','Times New Roman',serif;font-size:34.5px;font-weight:normal" fill="#000" stroke="#000" stroke-width="0.45">0.8</text>
<text transform="translate(107.04,280.47) scale(1.0247,1.0393)" text-anchor="end" style="font-family:'Liberation Serif','Times New Roman',serif;font-size:34.5px;font-weight:normal" fill="#000" stroke="#000" stroke-width="0.45">1.0</text>
<text transform="translate(107.04,199.47) scale(1.0247,1.0393)" text-anchor="end" style="font-family:'Liberation Serif','Times New Roman',serif;font-size:34.5px;font-weight:normal" fill="#000" stroke="#000" stroke-width="0.45">1.2</text>
<text transform="translate(107.04,118.47) scale(1.0247,1.0393)" text-anchor="end" style="font-family:'Liberation Serif','Times New Roman',serif;font-size:34.5px;font-weight:normal" fill="#000" stroke="#000" stroke-width="0.45">1.4</text>
<text transform="translate(107.04,37.47) scale(1.0247,1.0393)" text-anchor="end" style="font-family:'Liberation Serif','Times New Roman',serif;font-size:34.5px;font-weight:normal" fill="#000" stroke="#000" stroke-width="0.45">1.6</text>
<text transform="translate(136.10,729.46) scale(1.0431,1.0927)" text-anchor="middle" style="font-family:'Liberation Serif','Times New Roman',serif;font-size:34.5px;font-weight:normal" fill="#000" stroke="#000" stroke-width="0.45">0</text>
<text transform="translate(223.60,729.46) scale(1.0431,1.0927)" text-anchor="middle" style="font-family:'Liberation Serif','Times New Roman',serif;font-size:34.5px;font-weight:normal" fill="#000" stroke="#000" stroke-width="0.45">5</text>
<text transform="translate(310.30,729.46) scale(1.0431,1.0927)" text-anchor="middle" style="font-family:'Liberation Serif','Times New Roman',serif;font-size:34.5px;font-weight:normal" fill="#000" stroke="#000" stroke-width="0.45">10</text>
<text transform="translate(397.80,729.46) scale(1.0431,1.0927)" text-anchor="middle" style="font-family:'Liberation Serif','Times New Roman',serif;font-size:34.5px;font-weight:normal" fill="#000" stroke="#000" stroke-width="0.45">15</text>
<text transform="translate(485.30,729.46) scale(1.0431,1.0927)" text-anchor="middle" style="font-family:'Liberation Serif','Times New Roman',serif;font-size:34.5px;font-weight:normal" fill="#000" stroke="#000" stroke-width="0.45">20</text>
<text transform="translate(572.80,729.46) scale(1.0431,1.0927)" text-anchor="middle" style="font-family:'Liberation Serif','Times New Roman',serif;font-size:34.5px;font-weight:normal" fill="#000" stroke="#000" stroke-width="0.45">25</text>
<text transform="translate(660.30,729.46) scale(1.0431,1.0927)" text-anchor="middle" style="font-family:'Liberation Serif','Times New Roman',serif;font-size:34.5px;font-weight:normal" fill="#000" stroke="#000" stroke-width="0.45">30</text>
<text transform="translate(747.80,729.46) scale(1.0431,1.0927)" text-anchor="middle" style="font-family:'Liberation Serif','Times New Roman',serif;font-size:34.5px;font-weight:normal" fill="#000" stroke="#000" stroke-width="0.45">35</text>
<text transform="translate(145.30,655.90) scale(0.9027,1.1195)" text-anchor="middle" style="font-family:'Liberation Serif','Times New Roman',serif;font-size:34.5px;font-weight:normal" fill="#000" stroke="#000" stroke-width="0.45">1</text>
<text transform="translate(176.20,655.90) scale(0.9027,1.1195)" text-anchor="middle" style="font-family:'Liberation Serif','Times New Roman',serif;font-size:34.5px;font-weight:normal" fill="#000" stroke="#000" stroke-width="0.45">2</text>
<text transform="translate(223.14,655.90) scale(0.9027,1.1195)" text-anchor="middle" style="font-family:'Liberation Serif','Times New Roman',serif;font-size:34.5px;font-weight:normal" fill="#000" stroke="#000" stroke-width="0.45">3</text>
<text transform="translate(279.60,655.90) scale(0.9027,1.1195)" text-anchor="middle" style="font-family:'Liberation Serif','Times New Roman',serif;font-size:34.5px;font-weight:normal" fill="#000" stroke="#000" stroke-width="0.45">4</text>
<text transform="translate(358.50,655.90) scale(0.9027,1.1195)" text-anchor="middle" style="font-family:'Liberation Serif','Times New Roman',serif;font-size:34.5px;font-weight:normal" fill="#000" stroke="#000" stroke-width="0.45">5</text>
<text transform="translate(569.70,655.90) scale(0.9027,1.1195)" text-anchor="middle" style="font-family:'Liberation Serif','Times New Roman',serif;font-size:34.5px;font-weight:normal" fill="#000" stroke="#000" stroke-width="0.45">7</text>
<text transform="translate(704.20,655.90) scale(0.9027,1.1195)" text-anchor="middle" style="font-family:'Liberation Serif','Times New Roman',serif;font-size:34.5px;font-weight:normal" fill="#000" stroke="#000" stroke-width="0.45">8</text>
<text transform="translate(421.97,656.35) scale(1.0191,1.0828)" text-anchor="start" xml:space="preserve" style="font-family:'Liberation Serif','Times New Roman',serif;font-size:34.5px;font-weight:normal" fill="#000" stroke="#000" stroke-width="0.45">I = 6</text>
<text transform="translate(410.20,46.00) scale(0.9532,1.0289)" text-anchor="start" style="font-family:'Liberation Serif','Times New Roman',serif;font-size:41.7px;font-weight:normal" fill="#000" stroke="#000" stroke-width="0.45">x=0.1</text>
<text transform="translate(660.88,272.00) scale(1.0958,1.0168)" text-anchor="start" style="font-family:'Liberation Serif','Times New Roman',serif;font-size:34px;font-weight:normal" fill="#000" stroke="#000" stroke-width="0.45">λ</text>
<text transform="translate(641.22,95.60) scale(0.9938,1.0481)" text-anchor="start" style="font-family:'Liberation Serif','Times New Roman',serif;font-size:34.5px;font-weight:normal" fill="#575757" stroke="#575757" stroke-width="0.45">10</text>
<text transform="translate(675.77,77.50) scale(0.8874,1.0725)" text-anchor="start" style="font-family:'Liberation Serif','Times New Roman',serif;font-size:22.8px;font-weight:normal" fill="#575757" stroke="#575757" stroke-width="0.45">-6</text>
<text transform="translate(641.22,145.20) scale(0.9938,1.0481)" text-anchor="start" style="font-family:'Liberation Serif','Times New Roman',serif;font-size:34.5px;font-weight:normal" fill="#575757" stroke="#575757" stroke-width="0.45">10</text>
<text transform="translate(675.77,126.90) scale(0.8874,1.0725)" text-anchor="start" style="font-family:'Liberation Serif','Times New Roman',serif;font-size:22.8px;font-weight:normal" fill="#575757" stroke="#575757" stroke-width="0.45">-5</text>
<text transform="translate(641.22,198.00) scale(0.9938,1.0481)" text-anchor="start" style="font-family:'Liberation Serif','Times New Roman',serif;font-size:34.5px;font-weight:normal" fill="#03ace9" stroke="#03ace9" stroke-width="0.45">10</text>
<text transform="translate(675.77,179.80) scale(0.8874,1.0725)" text-anchor="start" style="font-family:'Liberation Serif','Times New Roman',serif;font-size:22.8px;font-weight:normal" fill="#03ace9" stroke="#03ace9" stroke-width="0.45">-4</text>
<text transform="translate(570.52,277.60) scale(0.9938,1.0481)" text-anchor="start" style="font-family:'Liberation Serif','Times New Roman',serif;font-size:34.5px;font-weight:normal" fill="#0000cc" stroke="#0000cc" stroke-width="0.45">10</text>
<text transform="translate(605.07,259.00) scale(0.8874,1.0725)" text-anchor="start" style="font-family:'Liberation Serif','Times New Roman',serif;font-size:22.8px;font-weight:normal" fill="#0000cc" stroke="#0000cc" stroke-width="0.45">-3</text>
<text transform="translate(570.52,403.50) scale(0.9938,1.0481)" text-anchor="start" style="font-family:'Liberation Serif','Times New Roman',serif;font-size:34.5px;font-weight:normal" fill="#037f12" stroke="#037f12" stroke-width="0.45">10</text>
<text transform="translate(605.07,385.10) scale(0.8874,1.0725)" text-anchor="start" style="font-family:'Liberation Serif','Times New Roman',serif;font-size:22.8px;font-weight:normal" fill="#037f12" stroke="#037f12" stroke-width="0.45">-2</text>
<text transform="translate(570.52,499.80) scale(0.9938,1.0481)" text-anchor="start" style="font-family:'Liberation Serif','Times New Roman',serif;font-size:34.5px;font-weight:normal" fill="#c4000a" stroke="#c4000a" stroke-width="0.45">10</text>
<text transform="translate(605.07,481.90) scale(0.8874,1.0725)" text-anchor="start" style="font-family:'Liberation Serif','Times New Roman',serif;font-size:22.8px;font-weight:normal" fill="#c4000a" stroke="#c4000a" stroke-width="0.45">-1</text>
<text transform="translate(570.52,588.20) scale(0.9938,1.0481)" text-anchor="start" style="font-family:'Liberation Serif','Times New Roman',serif;font-size:34.5px;font-weight:normal" fill="#ef6c12" stroke="#ef6c12" stroke-width="0.45">10</text>
<text transform="translate(605.07,569.90) scale(0.8874,1.0725)" text-anchor="start" style="font-family:'Liberation Serif','Times New Roman',serif;font-size:22.8px;font-weight:normal" fill="#ef6c12" stroke="#ef6c12" stroke-width="0.45">0</text>
<text transform="translate(333.00,780.99) scale(1.0000,0.9864)" text-anchor="start" xml:space="preserve" style="font-family:'Liberation Serif','Times New Roman',serif;font-size:41px;font-weight:bold" fill="#000">Combination #</text>
<text transform="translate(39.45,587.00) rotate(-90) scale(1.0026,0.9748)" text-anchor="start" xml:space="preserve" style="font-family:'Liberation Serif','Times New Roman',serif;font-size:41.5px;font-weight:bold" fill="#000">Peak Amplitude (</text>
<text transform="translate(39.81,279.50) rotate(-90) scale(1.0722,1.0219)" text-anchor="start" style="font-family:'Liberation Serif','Times New Roman',serif;font-size:41.5px;font-weight:normal" fill="#000" stroke="#000" stroke-width="0.45">Δσ</text>
<text transform="translate(60.50,226.49) rotate(-90) scale(0.9381,0.9780)" text-anchor="start" style="font-family:'Liberation Serif','Times New Roman',serif;font-size:27px;font-weight:bold" fill="#000">R</text>
<text transform="translate(38.58,207.55) rotate(-90) scale(0.9030,1.0311)" text-anchor="start" style="font-family:'Liberation Serif','Times New Roman',serif;font-size:41.5px;font-weight:bold" fill="#000">,</text>
<text transform="translate(40.39,187.02) rotate(-90) scale(0.9839,1.0434)" text-anchor="start" style="font-family:'Liberation Serif','Times New Roman',serif;font-size:41.5px;font-weight:bold" fill="#000">x10</text>
<text transform="translate(18.00,126.52) rotate(-90) scale(0.9733,0.9347)" text-anchor="start" style="font-family:'Liberation Serif','Times New Roman',serif;font-size:27px;font-weight:bold" fill="#000">-3</text>
<text transform="translate(38.86,105.21) rotate(-90) scale(1.1661,0.9558)" text-anchor="start" style="font-family:'Liberation Serif','Times New Roman',serif;font-size:41.5px;font-weight:bold" fill="#000">)</text>
</svg>
</body></html>
